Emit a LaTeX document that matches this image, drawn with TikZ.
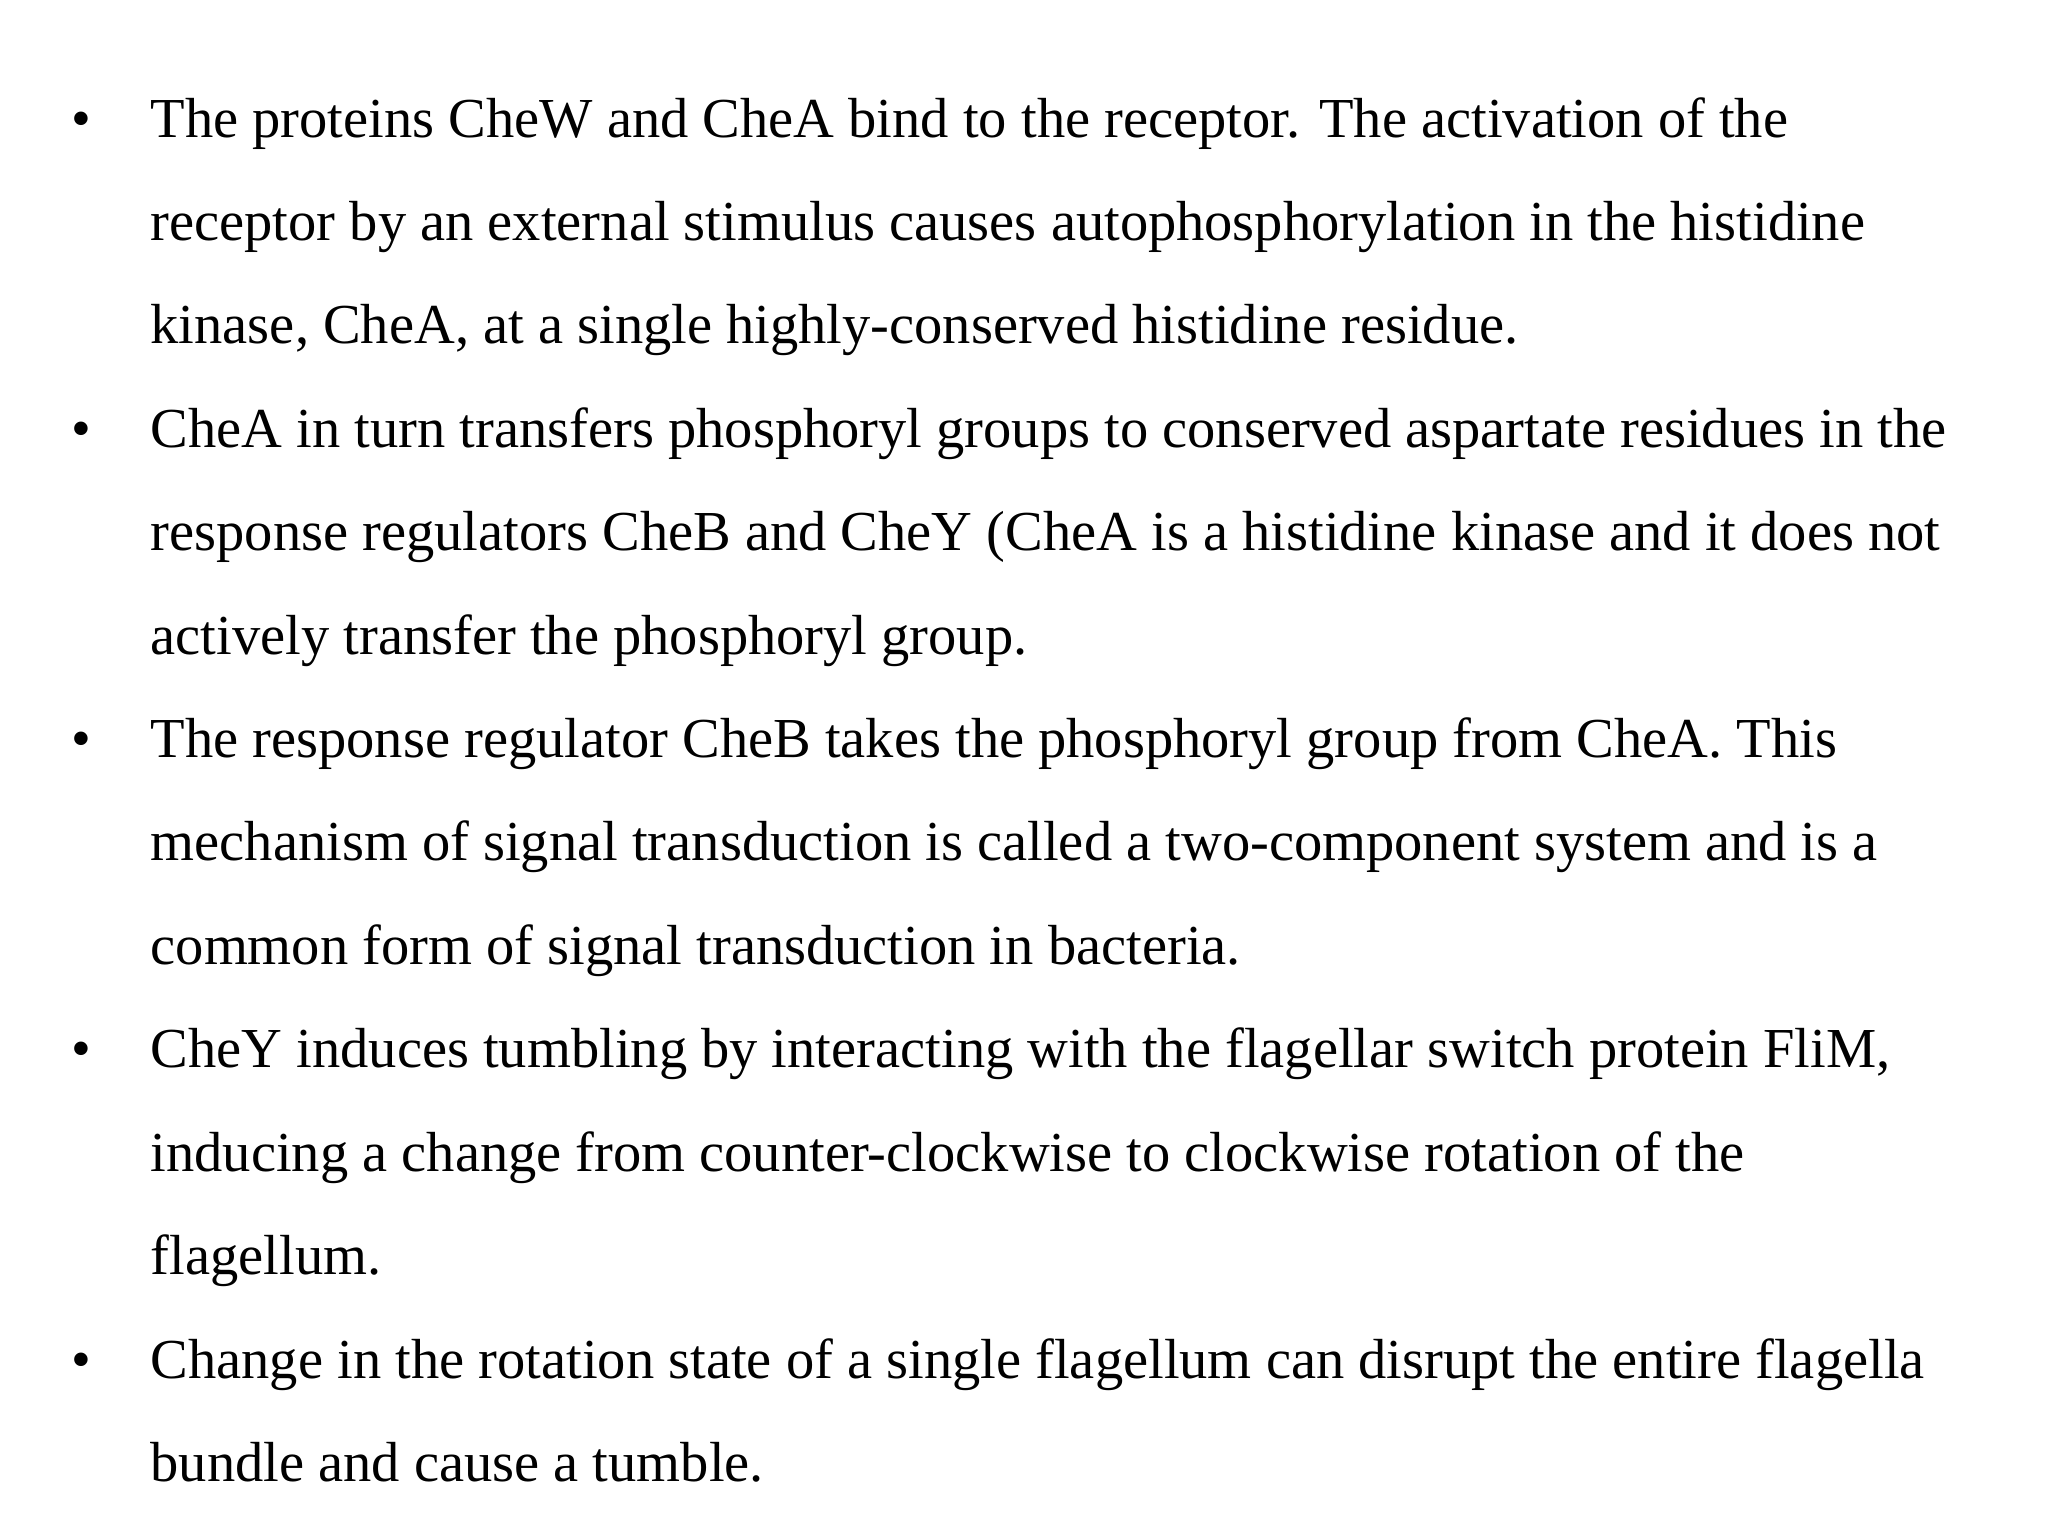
\documentclass[tikz,border=0pt]{standalone}
\usepackage{fontspec}
\setmainfont{Liberation Serif}
\begin{document}
\begin{tikzpicture}[x=1pt,y=-1pt,
  ln/.style={anchor=base west,inner sep=0pt,font=\fontsize{42.8}{44}\selectfont},
  bl/.style={anchor=base,inner sep=0pt,font=\fontsize{42.8}{44}\selectfont}]
\useasboundingbox[fill=white] (0,0) rectangle (1552,1164);
\foreach \i/\y in {1/104,4/339,7/574,10/809,13/1045}{\node[bl] (b\i) at (62,\y) {\textbullet};}
\node[ln] (l1) at (114,104) {The proteins CheW and CheA bind to the receptor. The activation of the};
\node[ln] (l2) at (114,182) {receptor by an external stimulus causes autophosphorylation in the histidine};
\node[ln] (l3) at (114,260) {kinase, CheA, at a single highly-conserved histidine residue.};
\node[ln] (l4) at (114,339) {CheA in turn transfers phosphoryl groups to conserved aspartate residues in the};
\node[ln] (l5) at (114,417) {response regulators CheB and CheY (CheA is a histidine kinase and it does not};
\node[ln] (l6) at (114,496) {actively transfer the phosphoryl group.};
\node[ln] (l7) at (114,574) {The response regulator CheB takes the phosphoryl group from CheA. This};
\node[ln] (l8) at (114,652) {mechanism of signal transduction is called a two-component system and is a};
\node[ln] (l9) at (114,731) {common form of signal transduction in bacteria.};
\node[ln] (l10) at (114,809) {CheY induces tumbling by interacting with the flagellar switch protein FliM,};
\node[ln] (l11) at (114,888) {inducing a change from counter-clockwise to clockwise rotation of the};
\node[ln] (l12) at (114,966) {flagellum.};
\node[ln] (l13) at (114,1045) {Change in the rotation state of a single flagellum can disrupt the entire flagella};
\node[ln] (l14) at (114,1123) {bundle and cause a tumble.};
\end{tikzpicture}
\end{document}
